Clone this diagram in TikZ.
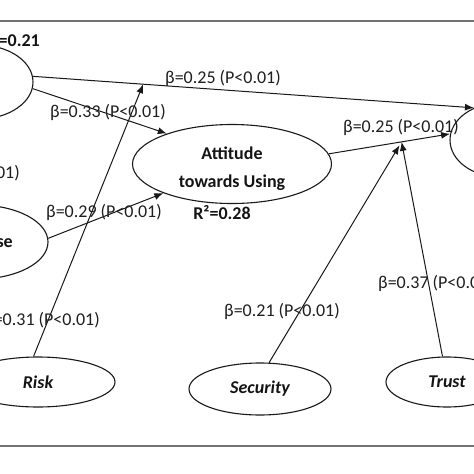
\documentclass[tikz,border=0pt]{standalone}
\usepackage{fontspec}
\setmainfont{Carlito}
\usetikzlibrary{shapes.geometric,arrows.meta}
\begin{document}
\begin{tikzpicture}[x=1pt,y=-1pt,
  latent/.style={ellipse,draw=black!90,line width=1.1pt,inner sep=0pt},
  pathline/.style={line width=1pt,draw=black!90,-{Latex[length=9pt,width=7pt]}},
  coef/.style={font=\fontsize{18}{22}\selectfont,text=black!88,inner sep=0pt},
  boldtxt/.style={font=\fontsize{18}{22}\selectfont\bfseries,text=black!92,inner sep=0pt},
  bitxt/.style={font=\fontsize{18}{22}\selectfont\bfseries\itshape,text=black!92},
  framerule/.style={line width=1.6pt,draw=black!55}]
\useasboundingbox (0,0) rectangle (474,474);
\clip (0,0) rectangle (474,474);
\fill[white] (0,0) rectangle (474,474);
% frame rules
\coordinate (TL) at (-2,21); \coordinate (TR) at (476,21);
\coordinate (BL) at (-2,446); \coordinate (BR) at (476,446);
\draw[framerule] (TL) -- (TR);
\draw[framerule] (BL) -- (BR);
% latent variables
\node[latent,minimum width=108pt,minimum height=74pt] (PU) at (-21,82) {};
\node[latent,minimum width=140pt,minimum height=74pt] (PE) at (-22,242) {};
\node[latent,minimum width=199pt,minimum height=79pt] (ATT) at (232,164) {};
\node[latent,minimum width=100pt,minimum height=74pt] (INT) at (500,140) {};
\node[latent,bitxt,minimum width=154pt,minimum height=50pt] (RISK) at (38,382) {Risk};
\node[latent,bitxt,minimum width=142pt,minimum height=52pt] (SEC) at (260,389) {Security};
\node[latent,bitxt,minimum width=122pt,minimum height=50pt] (TRUST) at (447,382) {Trust};
% texts inside / near ellipses
\node[boldtxt,align=center,font=\fontsize{18}{28}\selectfont\bfseries] (ATTtxt) at (232,169) {Attitude\\towards Using};
\node[boldtxt,anchor=east] (PEtxt) at (13,243) {se};
\node[boldtxt,anchor=east] (R1) at (40,40) {R²=0.21};
\node[boldtxt] (R2) at (222,213) {R²=0.28};
% paths
\draw[pathline] (PU.6) -- (INT.129) coordinate[pos=0.25] (M1);
\draw[pathline] (PU.-7) -- (ATT.155);
\draw[pathline] (PE.3) -- (ATT.203);
\draw[pathline] (ATT.6) -- (INT.173) coordinate[pos=0.6] (M2);
\draw[pathline] (RISK.100) -- (M1);
\draw[pathline,shorten >=4pt] (SEC.71) -- (M2);
\draw[pathline] (TRUST.100) -- (M2);
% coefficients
\node[coef] (C1) at (223,78) {β=0.25 (P<0.01)};
\node[coef] (C2) at (108,112) {β=0.33 (P<0.01)};
\node[coef] (C3) at (104,212) {β=0.29 (P<0.01)};
\node[coef] (C4) at (401,127) {β=0.25 (P<0.01)};
\node[coef,anchor=east] (C5) at (100,320) {β=0.31 (P<0.01)};
\node[coef] (C6) at (282,311) {β=0.21 (P<0.01)};
\node[coef,anchor=west] (C7) at (378,283) {β=0.37 (P<0.01)};
\node[coef,anchor=east] (C8) at (20,173) {(P<0.01)};
\end{tikzpicture}
\end{document}
